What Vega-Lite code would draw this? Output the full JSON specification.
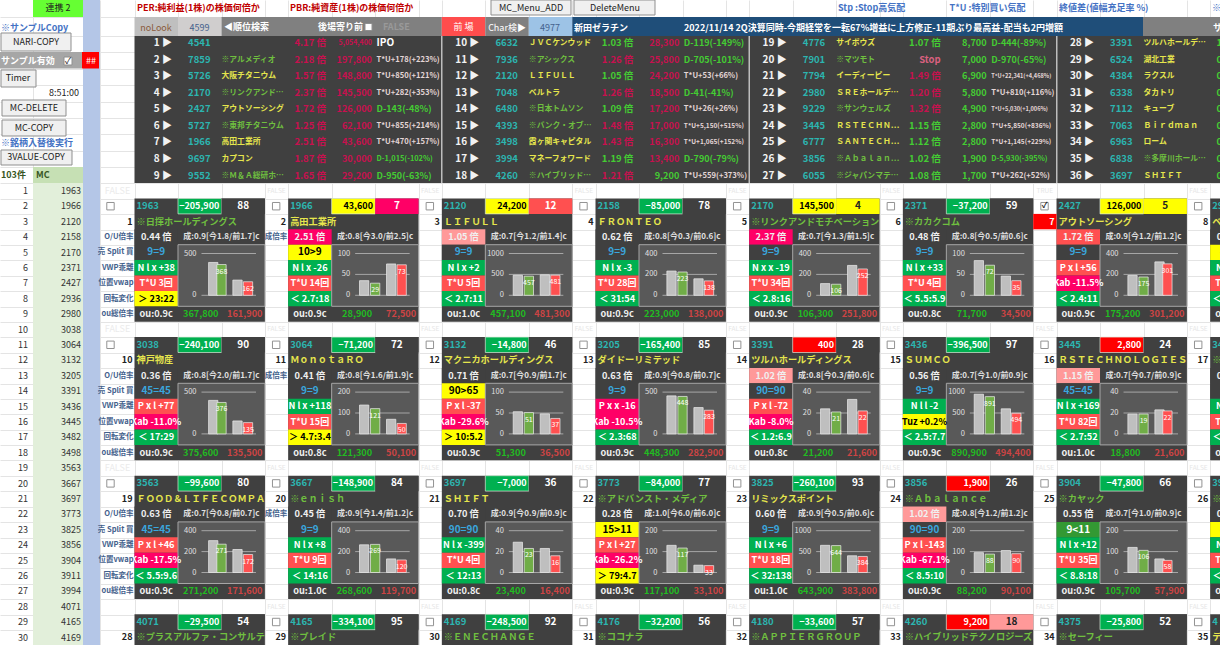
{
"$schema":"https://vega.github.io/schema/vega-lite/v6.json",
"width":1220,"height":645,"padding":0,"autosize":"none","background":"white",
"config":{"view":{"stroke":null},"text":{"font":"Noto Sans CJK JP","fontWeight":"bold","baseline":"middle"}},
"datasets":{
"boxes":[
{"x":8.3,"x2":10,"y":0,"y2":64.5,"k":"col"},{"x":3.3,"x2":8.3,"y":0,"y2":1.7,"k":"lime"},{"x":3.3,"x2":8.3,"y":18.3,"y2":64.5,"k":"mc"},{"x":3.3,"x2":8.3,"y":16.7,"y2":18.3,"k":"mch"},
{"x":13.45,"x2":17.8,"y":1.7,"y2":3.6,"k":"noL"},{"x":17.8,"x2":22.15,"y":1.7,"y2":3.6,"k":"no2"},{"x":22.15,"x2":44.18,"y":1.7,"y2":3.6,"k":"gray"},{"x":44.18,"x2":48.53,"y":1.7,"y2":3.6,"k":"red"},{"x":48.53,"x2":52.88,"y":1.7,"y2":3.6,"k":"gray"},{"x":52.88,"x2":57.23,"y":1.7,"y2":3.6,"k":"cell"},{"x":57.23,"x2":114.3,"y":1.7,"y2":3.6,"k":"navy"},{"x":114.3,"x2":122,"y":1.7,"y2":3.6,"k":"gray"},
{"x":13.45,"x2":122,"y":3.6,"y2":18.3,"k":"dark"},{"x":44.1,"x2":44.25,"y":3.6,"y2":18.3,"k":"sep"},{"x":74.85,"x2":75,"y":3.6,"y2":18.3,"k":"sep"},{"x":105.6,"x2":105.75,"y":3.6,"y2":18.3,"k":"sep"},
{"x":0,"x2":8.2,"y":5.2,"y2":6.85,"k":"samp"},{"x":8.2,"x2":9.9,"y":5.2,"y2":6.85,"k":"alert"},
{"x":0.1,"x2":7.1,"y":3.3,"y2":5.1,"k":"btn"},{"x":0.1,"x2":3.6,"y":7,"y2":8.7,"k":"btn"},{"x":0.2,"x2":6.6,"y":10,"y2":11.6,"k":"btn"},{"x":0.2,"x2":6.6,"y":12,"y2":13.6,"k":"btn"},{"x":0.1,"x2":7.2,"y":15,"y2":16.5,"k":"btn"},{"x":49.1,"x2":57.1,"y":0,"y2":1.5,"k":"btn"},{"x":57.4,"x2":65.5,"y":0,"y2":1.5,"k":"btn"},
{"x":6.4,"x2":7.2,"y":5.7,"y2":6.5,"k":"box"},{"x":36.5,"x2":37.2,"y":2.35,"y2":3.05,"k":"box"}
],
"chromeL":[
{"x":13.7,"y":0.8,"t":"PER:純利益(1株)の株価何倍か","k":"tR"},{"x":29,"y":0.8,"t":"PBR:純資産(1株)の株価何倍か","k":"tR"},{"x":83.8,"y":0.8,"t":"Stp :Stop高気配","k":"tB"},{"x":94.95,"y":0.8,"t":"T*U :特別買い気配","k":"tB"},{"x":105.9,"y":0.8,"t":"終値差(値幅充足率 %)","k":"tB"},{"x":121.2,"y":0.8,"t":"※","k":"tB"},
{"x":22.4,"y":2.7,"t":"◀順位検索","k":"tW"},{"x":31.8,"y":2.7,"t":"後場寄り前","k":"tW"},{"x":38.3,"y":2.7,"t":"FALSE","k":"tG"},{"x":57.4,"y":2.8,"t":"新田ゼラチン","k":"tW"},{"x":68.4,"y":2.8,"t":"2022/11/14 2Q決算同時-今期経常を一転67%増益に上方修正-11期ぶり最高益-配当も2円増額","k":"tW"},{"x":121.3,"y":2.8,"t":"サ","k":"tW"},
{"x":0.1,"y":2.8,"t":"※サンプルCopy","k":"tB"},{"x":0.1,"y":6.1,"t":"サンプル有効","k":"tW"},{"x":0.1,"y":14.3,"t":"※銘柄入替後実行","k":"tB"},{"x":0.1,"y":17.5,"t":"103件","k":"tD"},{"x":3.6,"y":17.5,"t":"MC","k":"tD"}
],
"chromeC":[
{"x":5.8,"y":0.8,"t":"連携 2","k":"tK"},{"x":15.6,"y":2.8,"t":"noLook","k":"tBr"},{"x":19.95,"y":2.8,"t":"4599","k":"tN"},{"x":46.35,"y":2.7,"t":"前 場","k":"tW"},{"x":50.7,"y":2.8,"t":"Char検▶","k":"tW"},{"x":55,"y":2.8,"t":"4977","k":"tN"},{"x":53.1,"y":0.8,"t":"MC_Menu_ADD","k":"tK"},{"x":61.5,"y":0.75,"t":"DeleteMenu","k":"tK"},
{"x":3.6,"y":4.2,"t":"NARI-COPY","k":"tK"},{"x":1.8,"y":7.8,"t":"Timer","k":"tK"},{"x":6.4,"y":9.3,"t":"8:51:00","k":"tK"},{"x":3.4,"y":10.8,"t":"MC-DELETE","k":"tK"},{"x":3.4,"y":12.8,"t":"MC-COPY","k":"tK"},{"x":3.6,"y":15.7,"t":"3VALUE-COPY","k":"tK"},{"x":9.1,"y":6.05,"t":"##","k":"tW"},{"x":6.8,"y":6.1,"t":"✓","k":"tK"}
],
"sheet":[{"row":1,"mc":1963},{"row":2,"mc":1966},{"row":3,"mc":2120},{"row":4,"mc":2158},{"row":5,"mc":2170},{"row":6,"mc":2371},{"row":7,"mc":2427},{"row":8,"mc":2936},{"row":9,"mc":2980},{"row":10,"mc":3038},{"row":11,"mc":3064},{"row":12,"mc":3132},{"row":13,"mc":3205},{"row":14,"mc":3391},{"row":15,"mc":3436},{"row":16,"mc":3445},{"row":17,"mc":3482},{"row":18,"mc":3498},{"row":19,"mc":3563},{"row":20,"mc":3667},{"row":21,"mc":3697},{"row":22,"mc":3773},{"row":23,"mc":3825},{"row":24,"mc":3856},{"row":25,"mc":3904},{"row":26,"mc":3911},{"row":27,"mc":3994},{"row":28,"mc":4071},{"row":29,"mc":4165},{"row":30,"mc":4169}],
"rank":[
{"col":0,"line":0,"num":"1 ▶","code":"4541","name":"","ratio":"4.17 倍","val":5054400,"note":"IPO","nk":"i"},
{"col":0,"line":1,"num":"2 ▶","code":"7859","name":"※アルメディオ","ratio":"2.18 倍","val":197800,"note":"T*U+178(+223%)","nk":"T"},
{"col":0,"line":2,"num":"3 ▶","code":"5726","name":"大阪チタニウム","ratio":"1.57 倍","val":148800,"note":"T*U+850(+121%)","nk":"T"},
{"col":0,"line":3,"num":"4 ▶","code":"2170","name":"※リンクアンドモチベ","ratio":"2.37 倍","val":145500,"note":"T*U+282(+353%)","nk":"T"},
{"col":0,"line":4,"num":"5 ▶","code":"2427","name":"アウトソーシング","ratio":"1.72 倍","val":126000,"note":"D-143(-48%)","nk":"D"},
{"col":0,"line":5,"num":"6 ▶","code":"5727","name":"※東邦チタニウム","ratio":"1.25 倍","val":62100,"note":"T*U+855(+214%)","nk":"T"},
{"col":0,"line":6,"num":"7 ▶","code":"1966","name":"高田工業所","ratio":"2.51 倍","val":43600,"note":"T*U+470(+157%)","nk":"T"},
{"col":0,"line":7,"num":"8 ▶","code":"9697","name":"カプコン","ratio":"1.87 倍","val":30000,"note":"D-1,015(-102%)","nk":"d"},
{"col":0,"line":8,"num":"9 ▶","code":"9552","name":"※Ｍ＆Ａ総研ホールディ","ratio":"1.65 倍","val":29200,"note":"D-950(-63%)","nk":"D"},
{"col":2,"line":0,"num":"10 ▶","code":"6632","name":"ＪＶＣケンウッド","ratio":"1.03 倍","val":28300,"note":"D-119(-149%)","nk":"D"},
{"col":2,"line":1,"num":"11 ▶","code":"7936","name":"※アシックス","ratio":"1.26 倍","val":25800,"note":"D-705(-101%)","nk":"D"},
{"col":2,"line":2,"num":"12 ▶","code":"2120","name":"ＬＩＦＵＬＬ","ratio":"1.05 倍","val":24200,"note":"T*U+53(+66%)","nk":"T"},
{"col":2,"line":3,"num":"13 ▶","code":"7048","name":"ベルトラ","ratio":"1.26 倍","val":18500,"note":"D-41(-41%)","nk":"D"},
{"col":2,"line":4,"num":"14 ▶","code":"6480","name":"※日本トムソン","ratio":"1.09 倍","val":17200,"note":"T*U+26(+26%)","nk":"T"},
{"col":2,"line":5,"num":"15 ▶","code":"4393","name":"※バンク・オブ・イノベ","ratio":"1.48 倍","val":17000,"note":"T*U+5,150(+515%)","nk":"t"},
{"col":2,"line":6,"num":"16 ▶","code":"3498","name":"霞ヶ関キャピタル","ratio":"1.43 倍","val":16300,"note":"T*U+1,065(+152%)","nk":"t"},
{"col":2,"line":7,"num":"17 ▶","code":"3994","name":"マネーフォワード","ratio":"1.19 倍","val":13400,"note":"D-790(-79%)","nk":"D"},
{"col":2,"line":8,"num":"18 ▶","code":"4260","name":"※ハイブリッドテクノロ","ratio":"1.21 倍","val":9200,"note":"T*U+559(+373%)","nk":"T"},
{"col":4,"line":0,"num":"19 ▶","code":"4776","name":"サイボウズ","ratio":"1.07 倍","val":8700,"note":"D-444(-89%)","nk":"D"},
{"col":4,"line":1,"num":"20 ▶","code":"7901","name":"※マツモト","ratio":"Stop","val":7000,"note":"D-970(-65%)","nk":"D"},
{"col":4,"line":2,"num":"21 ▶","code":"7794","name":"イーディーピー","ratio":"1.49 倍","val":6900,"note":"T*U+22,341(+4,468%)","nk":"u"},
{"col":4,"line":3,"num":"22 ▶","code":"2980","name":"ＳＲＥホールディングス","ratio":"1.20 倍","val":5800,"note":"T*U+810(+116%)","nk":"T"},
{"col":4,"line":4,"num":"23 ▶","code":"9229","name":"※サンウェルズ","ratio":"1.32 倍","val":4900,"note":"T*U+5,030(+1,006%)","nk":"u"},
{"col":4,"line":5,"num":"24 ▶","code":"3445","name":"ＲＳＴＥＣＨＮＯＬＯ","ratio":"1.15 倍","val":2800,"note":"T*U+5,850(+836%)","nk":"t"},
{"col":4,"line":6,"num":"25 ▶","code":"6777","name":"ＳＡＮＴＥＣＨＯＮ","ratio":"1.12 倍","val":2800,"note":"T*U+1,145(+229%)","nk":"t"},
{"col":4,"line":7,"num":"26 ▶","code":"3856","name":"※Ａｂａｌａｎｃｅ","ratio":"1.02 倍","val":1900,"note":"D-5,930(-395%)","nk":"d"},
{"col":4,"line":8,"num":"27 ▶","code":"6055","name":"※ジャパンマテリアル","ratio":"1.08 倍","val":1700,"note":"T*U+262(+52%)","nk":"T"},
{"col":6,"line":0,"num":"28 ▶","code":"3391","name":"ツルハホールディングス","ratio":"1.02 倍"},
{"col":6,"line":1,"num":"29 ▶","code":"6524","name":"湖北工業","ratio":"0.90 倍"},
{"col":6,"line":2,"num":"30 ▶","code":"4384","name":"ラクスル","ratio":"0.90 倍"},
{"col":6,"line":3,"num":"31 ▶","code":"6338","name":"タカトリ","ratio":"0.90 倍"},
{"col":6,"line":4,"num":"32 ▶","code":"7112","name":"キューブ","ratio":"0.90 倍"},
{"col":6,"line":5,"num":"33 ▶","code":"7063","name":"Ｂｉｒｄｍａｎ","ratio":"0.90 倍"},
{"col":6,"line":6,"num":"34 ▶","code":"6963","name":"ローム","ratio":"0.90 倍"},
{"col":6,"line":7,"num":"35 ▶","code":"6838","name":"※多摩川ホールディングス","ratio":"0.90 倍"},
{"col":6,"line":8,"num":"36 ▶","code":"3697","name":"ＳＨＩＦＴ","ratio":"0.70 倍"}
],
"cards":[
{"col":0,"row":0,"idx":1,"code":"1963","diff":-205900,"dk":"g","rank":88,"rk":"n","name":"※日揮ホールディングス","ratio":"0.44 倍","ak":"n","sub":"成:0.9[今1.8/前1.7]c","split":"9=9","sk":"n","nlx":"N l x +38","nk":"g","tu":"T*U 3回","tk":"r","rot":"＞ 23:22","ok":"y","ou":"ou:0.9c","buy":367800,"sell":161900},
{"col":1,"row":0,"idx":2,"code":"1966","diff":43600,"dk":"y","rank":7,"rk":"h","name":"高田工業所","ratio":"2.51 倍","ak":"h","sub":"成:0.8[今3.0/前2.5]c","split":"10>9","sk":"y","nlx":"N l x -26","nk":"g","tu":"T*U 14回","tk":"r","rot":"＜ 2.7:18","ok":"g","ou":"ou:0.9c","buy":28900,"sell":72500},
{"col":2,"row":0,"idx":3,"code":"2120","diff":24200,"dk":"y","rank":12,"rk":"r","name":"ＬＩＦＵＬＬ","ratio":"1.05 倍","ak":"p","sub":"成:0.7[今1.2/前1.4]c","split":"9=9","sk":"n","nlx":"N l x +2","nk":"g","tu":"T*U 5回","tk":"r","rot":"＜ 2.7:11","ok":"g","ou":"ou:1.0c","buy":457100,"sell":481300},
{"col":3,"row":0,"idx":4,"code":"2158","diff":-85000,"dk":"g","rank":78,"rk":"n","name":"ＦＲＯＮＴＥＯ","ratio":"0.62 倍","ak":"n","sub":"成:0.8[今0.3/前0.6]c","split":"9=9","sk":"n","nlx":"N l x -3","nk":"g","tu":"T*U 28回","tk":"r","rot":"＜ 31:54","ok":"g","ou":"ou:0.9c","buy":223000,"sell":138000},
{"col":4,"row":0,"idx":5,"code":"2170","diff":145500,"dk":"y","rank":4,"rk":"y","name":"※リンクアンドモチベーション","ratio":"2.37 倍","ak":"h","sub":"成:0.7[今1.3/前1.5]c","split":"9=9","sk":"n","nlx":"N x x -19","nk":"g","tu":"T*U 34回","tk":"r","rot":"＜ 2.8:16","ok":"g","ou":"ou:0.9c","buy":106300,"sell":251800},
{"col":5,"row":0,"idx":6,"code":"2371","diff":-37200,"dk":"g","rank":59,"rk":"n","name":"※カカクコム","ratio":"0.48 倍","ak":"n","sub":"成:0.8[今0.5/前0.6]c","split":"9=9","sk":"n","nlx":"N l x +33","nk":"g","tu":"T*U 4回","tk":"r","rot":"＜ 5.5:5.9","ok":"g","ou":"ou:0.8c","buy":71700,"sell":34500},
{"col":6,"row":0,"idx":7,"sel":1,"code":"2427","diff":126000,"dk":"y","rank":5,"rk":"y","name":"アウトソーシング","ratio":"1.72 倍","ak":"r","sub":"成:0.9[今1.2/前1.2]c","split":"9=9","sk":"n","nlx":"P x l +56","nk":"r","tu":"Kab -11.5%","tk":"h","rot":"＜ 2.4:11","ok":"g","ou":"ou:0.9c","buy":175200,"sell":301200},
{"col":7,"row":0,"idx":8,"code":"2936","name":"ベースフード","ratio":"0.70 倍","split":"45>9","ak":"n","sk":"y","nk":"g","tk":"r","ok":"g","ou":"ou:0.9c","nlx":"N l x +9","tu":"T*U 9回","rot":"＜ 2.2:10","dk":"g","rk":"n"},
{"col":0,"row":1,"idx":10,"code":"3038","diff":-240100,"dk":"g","rank":90,"rk":"n","name":"神戸物産","ratio":"0.36 倍","ak":"n","sub":"成:0.8[今2.0/前1.7]c","split":"45=45","sk":"n","nlx":"P x l +77","nk":"r","tu":"Kab -11.0%","tk":"h","rot":"＜ 17:29","ok":"g","ou":"ou:0.9c","buy":375600,"sell":135500},
{"col":1,"row":1,"idx":11,"code":"3064","diff":-71200,"dk":"g","rank":72,"rk":"n","name":"ＭｏｎｏｔａＲＯ","ratio":"0.41 倍","ak":"n","sub":"成:0.8[今1.6/前1.9]c","split":"9=9","sk":"n","nlx":"N l x +118","nk":"g","tu":"T*U 15回","tk":"r","rot":"＞ 4.7:3.4","ok":"y","ou":"ou:0.8c","buy":121300,"sell":50100},
{"col":2,"row":1,"idx":12,"code":"3132","diff":-14800,"dk":"g","rank":46,"rk":"n","name":"マクニカホールディングス","ratio":"0.71 倍","ak":"n","sub":"成:0.7[今0.9/前1.7]c","split":"90>65","sk":"y","nlx":"P x l -37","nk":"r","tu":"Kab -29.6%","tk":"h","rot":"＞ 10:5.2","ok":"y","ou":"ou:0.9c","buy":51300,"sell":36500},
{"col":3,"row":1,"idx":13,"code":"3205","diff":-165400,"dk":"g","rank":85,"rk":"n","name":"ダイドーリミテッド","ratio":"0.63 倍","ak":"n","sub":"成:0.9[今0.8/前0.7]c","split":"9=9","sk":"n","nlx":"P x x -16","nk":"h","tu":"Kab -10.5%","tk":"h","rot":"＜ 2.3:68","ok":"g","ou":"ou:0.9c","buy":448300,"sell":282900},
{"col":4,"row":1,"idx":14,"code":"3391","diff":400,"dk":"R","rank":28,"rk":"n","name":"ツルハホールディングス","ratio":"1.02 倍","ak":"p","sub":"成:0.8[今0.3/前0.6]c","split":"90=90","sk":"n","nlx":"P x l -72","nk":"r","tu":"Kab -8.0%","tk":"h","rot":"＜ 1.2:6.9","ok":"g","ou":"ou:0.8c","buy":21200,"sell":21600},
{"col":5,"row":1,"idx":15,"code":"3436","diff":-396500,"dk":"g","rank":97,"rk":"n","name":"ＳＵＭＣＯ","ratio":"0.56 倍","ak":"n","sub":"成:0.7[今1.0/前0.9]c","split":"9=9","sk":"n","nlx":"N l l -2","nk":"g","tu":"Tuz +0.2%","tk":"y","rot":"＜ 2.5:7.7","ok":"g","ou":"ou:0.9c","buy":890900,"sell":494400},
{"col":6,"row":1,"idx":16,"code":"3445","diff":2800,"dk":"R","rank":24,"rk":"n","name":"ＲＳＴＥＣＨＮＯＬＯＧＩＥＳ","ratio":"1.15 倍","ak":"p","sub":"成:0.7[今0.7/前0.9]c","split":"45=45","sk":"n","nlx":"N l x +169","nk":"g","tu":"T*U 82回","tk":"r","rot":"＜ 2.7:52","ok":"g","ou":"ou:1.0c","buy":18800,"sell":21600},
{"col":7,"row":1,"idx":17,"code":"3482","name":"※ロードスターキャピタル","ratio":"0.70 倍","split":"9=9","ak":"n","sk":"n","nk":"g","tk":"r","ok":"g","ou":"ou:0.9c","nlx":"N l x +9","tu":"T*U 9回","rot":"＜ 2.2:10","dk":"g","rk":"n"},
{"col":0,"row":2,"idx":19,"code":"3563","diff":-99600,"dk":"g","rank":80,"rk":"n","name":"ＦＯＯＤ＆ＬＩＦＥＣＯＭＰＡ","ratio":"0.63 倍","ak":"n","sub":"成:0.7[今0.8/前0.7]c","split":"45=45","sk":"n","nlx":"P x l +46","nk":"r","tu":"Kab -17.5%","tk":"h","rot":"＜ 5.5:9.6","ok":"g","ou":"ou:0.9c","buy":271200,"sell":171600},
{"col":1,"row":2,"idx":20,"code":"3667","diff":-148900,"dk":"g","rank":84,"rk":"n","name":"※ｅｎｉｓｈ","ratio":"0.45 倍","ak":"n","sub":"成:0.9[今1.4/前1.2]c","split":"9=9","sk":"n","nlx":"N l x +8","nk":"g","tu":"T*U 9回","tk":"r","rot":"＜ 14:16","ok":"g","ou":"ou:1.0c","buy":268600,"sell":119700},
{"col":2,"row":2,"idx":21,"code":"3697","diff":-7000,"dk":"g","rank":36,"rk":"n","name":"ＳＨＩＦＴ","ratio":"0.70 倍","ak":"n","sub":"成:0.9[今0.9/前0.9]c","split":"90=90","sk":"n","nlx":"N l x -399","nk":"g","tu":"T*U 4回","tk":"r","rot":"＜ 12:13","ok":"g","ou":"ou:0.8c","buy":23400,"sell":16400},
{"col":3,"row":2,"idx":22,"code":"3773","diff":-84000,"dk":"g","rank":77,"rk":"n","name":"※アドバンスト・メディア","ratio":"0.28 倍","ak":"n","sub":"成:1.0[今6.0/前6.0]c","split":"15>11","sk":"y","nlx":"P x l +27","nk":"r","tu":"Kab -26.2%","tk":"h","rot":"＞ 79:4.7","ok":"y","ou":"ou:0.9c","buy":117100,"sell":33100},
{"col":4,"row":2,"idx":23,"code":"3825","diff":-260100,"dk":"g","rank":93,"rk":"n","name":"リミックスポイント","ratio":"0.60 倍","ak":"n","sub":"成:0.9[今0.5/前0.6]c","split":"9=9","sk":"n","nlx":"N l x +6","nk":"g","tu":"T*U 18回","tk":"r","rot":"＜ 32:138","ok":"g","ou":"ou:1.0c","buy":643900,"sell":383800},
{"col":5,"row":2,"idx":24,"code":"3856","diff":1900,"dk":"R","rank":26,"rk":"n","name":"※Ａｂａｌａｎｃｅ","ratio":"1.02 倍","ak":"p","sub":"成:0.8[今1.2/前1.2]c","split":"90=90","sk":"n","nlx":"P x l -143","nk":"r","tu":"Kab -67.1%","tk":"h","rot":"＜ 8.5:10","ok":"g","ou":"ou:0.9c","buy":88200,"sell":90100},
{"col":6,"row":2,"idx":25,"code":"3904","diff":-47800,"dk":"g","rank":66,"rk":"n","name":"※カヤック","ratio":"0.55 倍","ak":"n","sub":"成:0.7[今1.0/前0.9]c","split":"9<11","sk":"G","nlx":"N l x +12","nk":"g","tu":"T*U 35回","tk":"r","rot":"＜ 8.8:18","ok":"g","ou":"ou:0.9c","buy":105700,"sell":57900},
{"col":7,"row":2,"idx":26,"code":"3911","name":"※Ａｉｍｉｎｇ","ratio":"0.70 倍","split":"45>9","ak":"n","sk":"y","nk":"g","tk":"r","ok":"g","ou":"ou:0.9c","nlx":"N l x +9","tu":"T*U 9回","rot":"＜ 2.2:10","dk":"g","rk":"n"},
{"col":0,"row":3,"idx":28,"code":"4071","diff":-29500,"dk":"g","rank":54,"rk":"n","name":"※プラスアルファ・コンサルテ"},
{"col":1,"row":3,"idx":29,"code":"4165","diff":-334100,"dk":"g","rank":95,"rk":"n","name":"※プレイド"},
{"col":2,"row":3,"idx":30,"code":"4169","diff":-248500,"dk":"g","rank":92,"rk":"n","name":"※ＥＮＥＣＨＡＮＧＥ"},
{"col":3,"row":3,"idx":31,"code":"4176","diff":-32200,"dk":"g","rank":56,"rk":"n","name":"※ココナラ"},
{"col":4,"row":3,"idx":32,"code":"4180","diff":-33600,"dk":"g","rank":57,"rk":"n","name":"※ＡＰＰＩＥＲＧＲＯＵＰ"},
{"col":5,"row":3,"idx":33,"code":"4260","diff":9200,"dk":"R","rank":18,"rk":"p","name":"※ハイブリッドテクノロジーズ"},
{"col":6,"row":3,"idx":34,"code":"4375","diff":-25800,"dk":"g","rank":52,"rk":"n","name":"※セーフィー"},
{"col":7,"row":3,"idx":35,"code":"4","name":"テラ","dk":"g","rk":"n"}
],
"panels":[
{"col":0,"row":0,"tick":[0,500],"p":[0,1]},{"col":1,"row":0,"tick":[0,50,100],"p":[0,0.5,1]},{"col":2,"row":0,"tick":[0,500,1000],"p":[0,0.5,1]},{"col":3,"row":0,"tick":[0,200,400],"p":[0,0.5,1]},{"col":4,"row":0,"tick":[0,200,400],"p":[0,0.5,1]},{"col":5,"row":0,"tick":[0,50,100],"p":[0,0.5,1]},{"col":6,"row":0,"tick":[0,200,400],"p":[0,0.5,1]},
{"col":0,"row":1,"tick":[0,500],"p":[0,1]},{"col":1,"row":1,"tick":[0,100,200],"p":[0,0.5,1]},{"col":2,"row":1,"tick":[0,50,100],"p":[0,0.5,1]},{"col":3,"row":1,"tick":[0,500],"p":[0,1]},{"col":4,"row":1,"tick":[0,20,40],"p":[0,0.5,1]},{"col":5,"row":1,"tick":[0,500,1000],"p":[0,0.5,1]},{"col":6,"row":1,"tick":[0,20,40],"p":[0,0.5,1]},
{"col":0,"row":2,"tick":[0,200,400],"p":[0,0.5,1]},{"col":1,"row":2,"tick":[0,200,400],"p":[0,0.5,1]},{"col":2,"row":2,"tick":[0,20,40],"p":[0,0.5,1]},{"col":3,"row":2,"tick":[0,100,200],"p":[0,0.5,1]},{"col":4,"row":2,"tick":[0,500,1000],"p":[0,0.5,1]},{"col":5,"row":2,"tick":[0,100,200],"p":[0,0.5,1]},{"col":6,"row":2,"tick":[0,100,200],"p":[0,0.5,1]}
],
"bars":[
{"slot":0,"row":0,"max":500,"v":393},{"slot":1,"row":0,"max":500,"v":368},{"slot":2,"row":0,"max":500,"v":182},{"slot":3,"row":0,"max":500,"v":162},
{"slot":10,"row":0,"max":100,"v":35},{"slot":11,"row":0,"max":100,"v":29},{"slot":12,"row":0,"max":100,"v":75},{"slot":13,"row":0,"max":100,"v":73},
{"slot":20,"row":0,"max":1000,"v":480},{"slot":21,"row":0,"max":1000,"v":457},{"slot":22,"row":0,"max":1000,"v":490},{"slot":23,"row":0,"max":1000,"v":481},
{"slot":30,"row":0,"max":400,"v":232},{"slot":31,"row":0,"max":400,"v":223},{"slot":32,"row":0,"max":400,"v":158},{"slot":33,"row":0,"max":400,"v":138},
{"slot":40,"row":0,"max":400,"v":112},{"slot":41,"row":0,"max":400,"v":106},{"slot":42,"row":0,"max":400,"v":286},{"slot":43,"row":0,"max":400,"v":252},
{"slot":50,"row":0,"max":100,"v":83},{"slot":51,"row":0,"max":100,"v":72},{"slot":52,"row":0,"max":100,"v":46},{"slot":53,"row":0,"max":100,"v":35},
{"slot":60,"row":0,"max":400,"v":190},{"slot":61,"row":0,"max":400,"v":175},{"slot":62,"row":0,"max":400,"v":320},{"slot":63,"row":0,"max":400,"v":301},
{"slot":0,"row":1,"max":500,"v":401},{"slot":1,"row":1,"max":500,"v":376},{"slot":2,"row":1,"max":500,"v":155},{"slot":3,"row":1,"max":500,"v":135},
{"slot":10,"row":1,"max":200,"v":138},{"slot":11,"row":1,"max":200,"v":121},{"slot":12,"row":1,"max":200,"v":70},{"slot":13,"row":1,"max":200,"v":50},
{"slot":20,"row":1,"max":100,"v":53},{"slot":21,"row":1,"max":100,"v":51},{"slot":22,"row":1,"max":100,"v":48},{"slot":23,"row":1,"max":100,"v":37},
{"slot":30,"row":1,"max":500,"v":455},{"slot":31,"row":1,"max":500,"v":448},{"slot":32,"row":1,"max":500,"v":315},{"slot":33,"row":1,"max":500,"v":283},
{"slot":40,"row":1,"max":40,"v":24},{"slot":41,"row":1,"max":40,"v":21},{"slot":42,"row":1,"max":40,"v":33},{"slot":43,"row":1,"max":40,"v":22},
{"slot":50,"row":1,"max":1000,"v":950},{"slot":51,"row":1,"max":1000,"v":891},{"slot":52,"row":1,"max":1000,"v":600},{"slot":53,"row":1,"max":1000,"v":494},
{"slot":60,"row":1,"max":40,"v":19},{"slot":61,"row":1,"max":40,"v":19},{"slot":62,"row":1,"max":40,"v":23},{"slot":63,"row":1,"max":40,"v":22},
{"slot":0,"row":2,"max":400,"v":305},{"slot":1,"row":2,"max":400,"v":271},{"slot":2,"row":2,"max":400,"v":220},{"slot":3,"row":2,"max":400,"v":172},
{"slot":10,"row":2,"max":400,"v":265},{"slot":11,"row":2,"max":400,"v":269},{"slot":12,"row":2,"max":400,"v":130},{"slot":13,"row":2,"max":400,"v":120},
{"slot":20,"row":2,"max":40,"v":29},{"slot":21,"row":2,"max":40,"v":23},{"slot":22,"row":2,"max":40,"v":23},{"slot":23,"row":2,"max":40,"v":16},
{"slot":30,"row":2,"max":200,"v":130},{"slot":31,"row":2,"max":200,"v":117},{"slot":32,"row":2,"max":200,"v":35},{"slot":33,"row":2,"max":200,"v":33},
{"slot":40,"row":2,"max":1000,"v":650},{"slot":41,"row":2,"max":1000,"v":644},{"slot":42,"row":2,"max":1000,"v":400},{"slot":43,"row":2,"max":1000,"v":384},
{"slot":50,"row":2,"max":200,"v":95},{"slot":51,"row":2,"max":200,"v":88},{"slot":52,"row":2,"max":200,"v":105},{"slot":53,"row":2,"max":200,"v":90},
{"slot":60,"row":2,"max":200,"v":120},{"slot":61,"row":2,"max":200,"v":106},{"slot":62,"row":2,"max":200,"v":65},{"slot":63,"row":2,"max":200,"v":58}
]
},
"resolve":{"scale":{"x":"independent","y":"independent"}},
"layer":[
{
"encoding":{
"x":{"field":"x","type":"quantitative","scale":{"domain":[0,122],"nice":false,"zero":false},"axis":{"values":[3.3,8.3,10,13.45,17.8,22.15,26.5,28.82,33.17,37.52,41.87,44.18,48.53,52.88,57.23,59.55,63.9,68.25,72.6,74.92,79.27,83.62,87.97,90.28,94.63,98.98,103.33,105.65,110,114.35,118.7,121.02],"grid":true,"gridColor":"#e4e4e4","labels":false,"ticks":false,"domain":false,"title":null}},
"y":{"field":"y","type":"quantitative","scale":{"domain":[0,64.5],"range":[0,645],"nice":false,"zero":false},"axis":{"values":[1.7,3.6,5.2,6.9,8.5,10.2,11.8,13.4,15.1,16.7,18.33,19.87,21.41,22.95,24.49,26.03,27.57,29.11,30.65,32.19,33.73,35.27,36.81,38.35,39.89,41.43,42.97,44.51,46.05,47.59,49.13,50.67,52.21,53.75,55.29,56.83,58.37,59.91,61.45,62.99,64.53],"grid":true,"gridColor":"#e4e4e4","labels":false,"ticks":false,"domain":false,"title":null}},
"color":{"field":"k","type":"nominal","legend":null,"scale":{"domain":["lime","col","mc","mch","noL","no2","gray","red","cell","navy","dark","samp","alert","btn","sep","box","tR","tB","tK","tBr","tN","tW","tG","tD"],"range":["#66ff33","#b4c6e7","#e2efda","#c6e0b4","#bfbfbf","#d0cece","#808080","#ff4d4d","#9dc3e6","#1f4e79","#404040","#a6a6a6","#ff0000","#f0f0f0","#bdbdbd","#ffffff","#c00000","#4472c4","#222222","#8a5a3a","#44618c","#ffffff","#999999","#375623"]}}
},
"layer":[
{"data":{"name":"boxes"},"mark":{"type":"rect"},"encoding":{"x2":{"field":"x2"},"y2":{"field":"y2"},"stroke":{"condition":{"test":"datum.k=='btn'||datum.k=='box'","value":"#8f8f8f"},"value":null}}},
{"data":{"name":"chromeL"},"mark":{"type":"text","align":"left","fontSize":9},"encoding":{"text":{"field":"t"}}},
{"data":{"name":"chromeC"},"mark":{"type":"text","align":"center","fontSize":9,"fontWeight":"normal"},"encoding":{"text":{"field":"t"}}}
]
},
{
"data":{"name":"sheet"},
"encoding":{"y":{"field":"row","type":"quantitative","axis":null,"scale":{"domain":[1,30],"range":[191,637.6],"nice":false,"zero":false}}},
"layer":[
{"mark":{"type":"text","align":"right","fontSize":9,"fontWeight":"normal","color":"#333"},"encoding":{"x":{"datum":2.8,"type":"quantitative","axis":null,"scale":{"domain":[0,122],"nice":false,"zero":false}},"text":{"field":"row"}}},
{"mark":{"type":"text","align":"right","fontSize":9,"fontWeight":"normal","color":"#333"},"encoding":{"x":{"datum":8.1,"type":"quantitative","axis":null,"scale":{"domain":[0,122],"nice":false,"zero":false}},"text":{"field":"mc"}}}
]
},
{
"encoding":{"x":{"field":"col","type":"quantitative","axis":null,"scale":{"domain":[-0.8752,7.0638],"nice":false,"zero":false}}},
"resolve":{"scale":{"x":"independent","y":"independent"}},
"layer":[
{
"data":{"name":"rank"},
"encoding":{"y":{"field":"line","type":"quantitative","axis":null,"scale":{"domain":[0,8],"range":[43,175.6],"nice":false,"zero":false}}},
"layer":[
{"mark":{"type":"text","align":"right","dx":37.5,"fontSize":10,"color":"#f2f2f2"},"encoding":{"text":{"field":"num"}}},
{"mark":{"type":"text","align":"center","dx":64.8,"fontSize":9.5,"color":"#2cb5b0"},"encoding":{"text":{"field":"code"}}},
{"mark":{"type":"text","align":"left","dx":87,"fontSize":7.8,"limit":65,"ellipsis":""},"encoding":{"text":{"field":"name"},"color":{"condition":{"test":"indexof(datum.name,'※')==0","value":"#6fbf3f"},"value":"#e6e64d"}}},
{"mark":{"type":"text","align":"right","dx":191.5,"fontSize":9.5},"encoding":{"text":{"field":"ratio"},"color":{"condition":[{"test":"datum.ratio=='Stop'","value":"#d9607f"},{"test":"toNumber(slice(datum.ratio,0,4))<1.2","value":"#44cc33"}],"value":"#c8104f"}}},
{"transform":[{"filter":"datum.val>0"}],"encoding":{"text":{"field":"val","type":"quantitative","format":","},"color":{"condition":{"test":"datum.val>=10000","value":"#c8104f"},"value":"#44cc33"}},"layer":[
{"transform":[{"filter":"datum.val<1000000"}],"mark":{"type":"text","align":"right","dx":237.5,"fontSize":9.2}},
{"transform":[{"filter":"datum.val>=1000000"}],"mark":{"type":"text","align":"right","dx":237.5,"fontSize":7}}
]},
{"transform":[{"filter":"datum.val>0"}],"encoding":{"text":{"field":"note"},"color":{"condition":[{"test":"datum.nk=='i'","value":"#ffffff"},{"test":"datum.nk=='D'||datum.nk=='d'","value":"#44cc33"}],"value":"#e4d6d6"}},"layer":[
{"transform":[{"filter":"datum.nk=='i'"}],"mark":{"type":"text","align":"left","dx":242,"fontSize":10}},
{"transform":[{"filter":"datum.nk=='D'"}],"mark":{"type":"text","align":"left","dx":242,"fontSize":9}},
{"transform":[{"filter":"datum.nk=='d'"}],"mark":{"type":"text","align":"left","dx":242,"fontSize":7.4}},
{"transform":[{"filter":"datum.nk=='T'"}],"mark":{"type":"text","align":"left","dx":242,"fontSize":7.6}},
{"transform":[{"filter":"datum.nk=='t'"}],"mark":{"type":"text","align":"left","dx":242,"fontSize":6.5}},
{"transform":[{"filter":"datum.nk=='u'"}],"mark":{"type":"text","align":"left","dx":242,"fontSize":5.6}}
]}
]
},
{
"data":{"name":"cards"},
"encoding":{"y":{"field":"row","type":"quantitative","axis":null,"scale":{"domain":[0,3],"range":[198.5,614.3],"nice":false,"zero":false}}},
"layer":[
{"encoding":{"x2":{"field":"col"},"y2":{"field":"row"}},"layer":[
{"mark":{"type":"rect","xOffset":0,"x2Offset":130.4,"yOffset":0,"y2Offset":123.2,"fill":"#404040"}},
{"mark":{"type":"rect","xOffset":43.5,"x2Offset":87,"yOffset":0,"y2Offset":15.4,"stroke":"#d8ead8","strokeWidth":0.7},"encoding":{"fill":{"field":"dk","type":"nominal","legend":null,"scale":{"domain":["n","g","y","r","h","p","R","G"],"range":["#404040","#00b050","#ffff00","#ff5050","#ff0066","#ff9999","#ff0000","#339933"]}}}},
{"mark":{"type":"rect","xOffset":87,"x2Offset":130.4,"yOffset":0,"y2Offset":15.4},"encoding":{"fill":{"field":"rk","type":"nominal","legend":null}}},
{"transform":[{"filter":"datum.sel==1"}],"mark":{"type":"rect","xOffset":-23.3,"x2Offset":0,"yOffset":15.4,"y2Offset":30.8,"fill":"#ff0000"}},
{"transform":[{"filter":"datum.row<3"}],"layer":[
{"mark":{"type":"rect","xOffset":0,"x2Offset":43.5,"yOffset":30.8,"y2Offset":46.2},"encoding":{"fill":{"field":"ak","type":"nominal","legend":null}}},
{"mark":{"type":"rect","xOffset":0,"x2Offset":43.5,"yOffset":46.2,"y2Offset":61.6},"encoding":{"fill":{"field":"sk","type":"nominal","legend":null}}},
{"mark":{"type":"rect","xOffset":0,"x2Offset":43.5,"yOffset":61.6,"y2Offset":77},"encoding":{"fill":{"field":"nk","type":"nominal","legend":null}}},
{"mark":{"type":"rect","xOffset":0,"x2Offset":43.5,"yOffset":77,"y2Offset":92.4},"encoding":{"fill":{"field":"tk","type":"nominal","legend":null}}},
{"mark":{"type":"rect","xOffset":0,"x2Offset":43.5,"yOffset":92.4,"y2Offset":107.8},"encoding":{"fill":{"field":"ok","type":"nominal","legend":null}}},
{"mark":{"type":"rect","xOffset":43.5,"x2Offset":130.4,"yOffset":46.2,"y2Offset":107.8,"fill":"#595959","stroke":"#a6a6a6","strokeWidth":1}}
]}
]},
{"mark":{"type":"text","align":"left","dx":2,"dy":7.7,"fontSize":9.5,"color":"#2cb5b0"},"encoding":{"text":{"field":"code"}}},
{"transform":[{"filter":"isValid(datum.diff)"}],"mark":{"type":"text","align":"right","dx":84.8,"dy":7.7,"fontSize":9},"encoding":{"text":{"field":"diff","type":"quantitative","format":","},"color":{"condition":{"test":"datum.dk=='y'","value":"#000000"},"value":"#ffffff"}}},
{"transform":[{"filter":"isValid(datum.rank)"}],"mark":{"type":"text","align":"center","dx":108.7,"dy":7.7,"fontSize":10},"encoding":{"text":{"field":"rank"},"color":{"condition":{"test":"datum.rk=='y'||datum.rk=='p'","value":"#222222"},"value":"#ffffff"}}},
{"mark":{"type":"text","align":"left","dx":2,"dy":23.1,"fontSize":9.2,"limit":129,"ellipsis":""},"encoding":{"text":{"field":"name"},"color":{"condition":{"test":"indexof(datum.name,'※')==0","value":"#6fbf3f"},"value":"#e6e64d"}}},
{"mark":{"type":"text","align":"right","dx":-2,"dy":23.1,"fontSize":9},"encoding":{"text":{"field":"idx"},"color":{"condition":{"test":"datum.sel==1","value":"#ffffff"},"value":"#222222"}}},
{"transform":[{"filter":"datum.row<3"}],"layer":[
{"mark":{"type":"text","align":"center","dx":21.7,"dy":38.5,"fontSize":9.2,"color":"#f0f0f0"},"encoding":{"text":{"field":"ratio"}}},
{"transform":[{"filter":"isValid(datum.sub)"}],"mark":{"type":"text","align":"center","dx":86.9,"dy":38.5,"fontSize":8,"color":"#e0e0e0"},"encoding":{"text":{"field":"sub"}}},
{"mark":{"type":"text","align":"center","dx":21.7,"dy":53.9,"fontSize":10},"encoding":{"text":{"field":"split"},"color":{"condition":[{"test":"datum.sk=='y'","value":"#000000"},{"test":"datum.sk=='G'","value":"#ffffff"}],"value":"#3aa6dd"}}},
{"mark":{"type":"text","align":"center","dx":21.7,"dy":69.3,"fontSize":9.2,"color":"#ffffff"},"encoding":{"text":{"field":"nlx"}}},
{"mark":{"type":"text","align":"center","dx":21.7,"dy":84.7,"fontSize":9},"encoding":{"text":{"field":"tu"},"color":{"condition":{"test":"datum.tk=='y'","value":"#000000"},"value":"#ffffff"}}},
{"mark":{"type":"text","align":"center","dx":21.7,"dy":100.1,"fontSize":9.2},"encoding":{"text":{"field":"rot"},"color":{"condition":{"test":"datum.ok=='y'","value":"#000000"},"value":"#ffffff"}}},
{"mark":{"type":"text","align":"center","dx":21.7,"dy":115.5,"fontSize":9.2,"color":"#f0f0f0"},"encoding":{"text":{"field":"ou"}}},
{"transform":[{"filter":"isValid(datum.buy)"}],"mark":{"type":"text","align":"right","dx":84,"dy":115.5,"fontSize":9.2,"color":"#22bb22"},"encoding":{"text":{"field":"buy","type":"quantitative","format":","}}},
{"transform":[{"filter":"isValid(datum.sell)"}],"mark":{"type":"text","align":"right","dx":128,"dy":115.5,"fontSize":9.2,"color":"#cc4444"},"encoding":{"text":{"field":"sell","type":"quantitative","format":","}}}
]},
{"transform":[{"filter":"datum.col==0&&datum.row<3"}],"layer":[
{"mark":{"type":"text","align":"right","dx":-1,"dy":38.5,"fontSize":7.5,"color":"#44618c"},"encoding":{"text":{"value":"O/U倍率"}}},
{"mark":{"type":"text","align":"right","dx":-1,"dy":53.9,"fontSize":7.5,"color":"#44618c"},"encoding":{"text":{"value":"売 Split 買"}}},
{"mark":{"type":"text","align":"right","dx":-1,"dy":69.3,"fontSize":7.5,"color":"#44618c"},"encoding":{"text":{"value":"VWP乖離"}}},
{"mark":{"type":"text","align":"right","dx":-1,"dy":84.7,"fontSize":7.5,"color":"#44618c"},"encoding":{"text":{"value":"位置vwap"}}},
{"mark":{"type":"text","align":"right","dx":-1,"dy":100.1,"fontSize":7.5,"color":"#44618c"},"encoding":{"text":{"value":"回転変化"}}},
{"mark":{"type":"text","align":"right","dx":-1,"dy":115.5,"fontSize":7.5,"color":"#44618c"},"encoding":{"text":{"value":"ou総倍率"}}},
{"mark":{"type":"square","xOffset":-24,"yOffset":7.7,"size":55,"filled":true,"fill":"#ffffff","stroke":"#666666","strokeWidth":1}},
{"mark":{"type":"text","align":"center","dx":-17,"dy":-7.7,"fontSize":9,"fontWeight":"normal","color":"#ebebeb"},"encoding":{"text":{"value":"FALSE"}}}
]},
{"transform":[{"filter":"datum.col==1&&datum.row<3"}],"mark":{"type":"text","align":"right","dx":-1,"dy":38.5,"fontSize":7.5,"color":"#44618c"},"encoding":{"text":{"value":"成倍率"}}},
{"transform":[{"filter":"datum.col>0"}],"layer":[
{"mark":{"type":"square","xOffset":-12,"yOffset":7.7,"size":55,"filled":true,"fill":"#ffffff","stroke":"#666666","strokeWidth":1}},
{"transform":[{"filter":"datum.sel==1"}],"mark":{"type":"text","align":"center","dx":-12,"dy":7.7,"fontSize":8,"color":"#222222"},"encoding":{"text":{"value":"✓"}}},
{"mark":{"type":"text","align":"center","dx":-11.7,"dy":-7.7,"fontSize":6.5,"fontWeight":"normal","color":"#e6e6e6"},"encoding":{"text":{"condition":{"test":"datum.sel==1","value":"TRUE"},"value":"FALSE"}}}
]}
]
},
{"data":{"name":"panels"},"transform":[{"filter":"datum.row==0"},{"flatten":["tick","p"]}],"encoding":{"y":{"field":"p","type":"quantitative","axis":null,"scale":{"domain":[0,1],"range":[295.3,253.5],"nice":false}}},"layer":[
{"mark":{"type":"rule","xOffset":67,"x2Offset":121.5,"color":"#a6a6a6","strokeWidth":1},"encoding":{"x2":{"field":"col"}}},
{"mark":{"type":"text","align":"right","dx":62,"fontSize":7.5,"fontWeight":"normal","color":"#e0e0e0"},"encoding":{"text":{"field":"tick"}}}
]},
{"data":{"name":"panels"},"transform":[{"filter":"datum.row==1"},{"flatten":["tick","p"]}],"encoding":{"y":{"field":"p","type":"quantitative","axis":null,"scale":{"domain":[0,1],"range":[433.9,392.1],"nice":false}}},"layer":[
{"mark":{"type":"rule","xOffset":67,"x2Offset":121.5,"color":"#a6a6a6","strokeWidth":1},"encoding":{"x2":{"field":"col"}}},
{"mark":{"type":"text","align":"right","dx":62,"fontSize":7.5,"fontWeight":"normal","color":"#e0e0e0"},"encoding":{"text":{"field":"tick"}}}
]},
{"data":{"name":"panels"},"transform":[{"filter":"datum.row==2"},{"flatten":["tick","p"]}],"encoding":{"y":{"field":"p","type":"quantitative","axis":null,"scale":{"domain":[0,1],"range":[572.5,530.7],"nice":false}}},"layer":[
{"mark":{"type":"rule","xOffset":67,"x2Offset":121.5,"color":"#a6a6a6","strokeWidth":1},"encoding":{"x2":{"field":"col"}}},
{"mark":{"type":"text","align":"right","dx":62,"fontSize":7.5,"fontWeight":"normal","color":"#e0e0e0"},"encoding":{"text":{"field":"tick"}}}
]},
{
"data":{"name":"bars"},
"encoding":{"x":{"field":"slot","type":"quantitative","axis":null,"scale":{"domain":[0,1,2,3,10,11,12,13,20,21,22,23,30,31,32,33,40,41,42,43,50,51,52,53,60,61,62,63],"range":[210.5,221.5,237.5,248,364.17,375.17,391.17,401.67,517.84,528.84,544.84,555.34,671.51,682.51,698.51,709.01,825.18,836.18,852.18,862.68,978.85,989.85,1005.85,1016.35,1132.52,1143.52,1159.52,1170.02],"nice":false,"zero":false}}},
"resolve":{"scale":{"y":"independent"}},
"layer":[
{"transform":[{"filter":"datum.row==0&&datum.max==500"}],"encoding":{"y":{"field":"v","type":"quantitative","stack":null,"axis":null,"scale":{"domain":[0,500],"range":[295.3,253.5],"nice":false}}},"layer":[{"mark":{"type":"bar","orient":"vertical","width":9.3,"stroke":"#eeeeee","strokeWidth":0.7},"encoding":{"y2":{"datum":0},"color":{"condition":[{"test":"datum.slot%10==1","value":"#70ad47"},{"test":"datum.slot%10==3","value":"#ff5050"}],"value":"#bfbfbf"}}},{"transform":[{"filter":"datum.slot%2==1"}],"mark":{"type":"text","dy":7,"fontSize":7,"fontWeight":"normal","color":"#ffffff"},"encoding":{"text":{"field":"v"}}}]},
{"transform":[{"filter":"datum.row==0&&datum.max==100"}],"encoding":{"y":{"field":"v","type":"quantitative","stack":null,"axis":null,"scale":{"domain":[0,100],"range":[295.3,253.5],"nice":false}}},"layer":[{"mark":{"type":"bar","orient":"vertical","width":9.3,"stroke":"#eeeeee","strokeWidth":0.7},"encoding":{"y2":{"datum":0},"color":{"condition":[{"test":"datum.slot%10==1","value":"#70ad47"},{"test":"datum.slot%10==3","value":"#ff5050"}],"value":"#bfbfbf"}}},{"transform":[{"filter":"datum.slot%2==1"}],"mark":{"type":"text","dy":7,"fontSize":7,"fontWeight":"normal","color":"#ffffff"},"encoding":{"text":{"field":"v"}}}]},
{"transform":[{"filter":"datum.row==0&&datum.max==1000"}],"encoding":{"y":{"field":"v","type":"quantitative","stack":null,"axis":null,"scale":{"domain":[0,1000],"range":[295.3,253.5],"nice":false}}},"layer":[{"mark":{"type":"bar","orient":"vertical","width":9.3,"stroke":"#eeeeee","strokeWidth":0.7},"encoding":{"y2":{"datum":0},"color":{"condition":[{"test":"datum.slot%10==1","value":"#70ad47"},{"test":"datum.slot%10==3","value":"#ff5050"}],"value":"#bfbfbf"}}},{"transform":[{"filter":"datum.slot%2==1"}],"mark":{"type":"text","dy":7,"fontSize":7,"fontWeight":"normal","color":"#ffffff"},"encoding":{"text":{"field":"v"}}}]},
{"transform":[{"filter":"datum.row==0&&datum.max==400"}],"encoding":{"y":{"field":"v","type":"quantitative","stack":null,"axis":null,"scale":{"domain":[0,400],"range":[295.3,253.5],"nice":false}}},"layer":[{"mark":{"type":"bar","orient":"vertical","width":9.3,"stroke":"#eeeeee","strokeWidth":0.7},"encoding":{"y2":{"datum":0},"color":{"condition":[{"test":"datum.slot%10==1","value":"#70ad47"},{"test":"datum.slot%10==3","value":"#ff5050"}],"value":"#bfbfbf"}}},{"transform":[{"filter":"datum.slot%2==1"}],"mark":{"type":"text","dy":7,"fontSize":7,"fontWeight":"normal","color":"#ffffff"},"encoding":{"text":{"field":"v"}}}]},
{"transform":[{"filter":"datum.row==1&&datum.max==500"}],"encoding":{"y":{"field":"v","type":"quantitative","stack":null,"axis":null,"scale":{"domain":[0,500],"range":[433.9,392.1],"nice":false}}},"layer":[{"mark":{"type":"bar","orient":"vertical","width":9.3,"stroke":"#eeeeee","strokeWidth":0.7},"encoding":{"y2":{"datum":0},"color":{"condition":[{"test":"datum.slot%10==1","value":"#70ad47"},{"test":"datum.slot%10==3","value":"#ff5050"}],"value":"#bfbfbf"}}},{"transform":[{"filter":"datum.slot%2==1"}],"mark":{"type":"text","dy":7,"fontSize":7,"fontWeight":"normal","color":"#ffffff"},"encoding":{"text":{"field":"v"}}}]},
{"transform":[{"filter":"datum.row==1&&datum.max==200"}],"encoding":{"y":{"field":"v","type":"quantitative","stack":null,"axis":null,"scale":{"domain":[0,200],"range":[433.9,392.1],"nice":false}}},"layer":[{"mark":{"type":"bar","orient":"vertical","width":9.3,"stroke":"#eeeeee","strokeWidth":0.7},"encoding":{"y2":{"datum":0},"color":{"condition":[{"test":"datum.slot%10==1","value":"#70ad47"},{"test":"datum.slot%10==3","value":"#ff5050"}],"value":"#bfbfbf"}}},{"transform":[{"filter":"datum.slot%2==1"}],"mark":{"type":"text","dy":7,"fontSize":7,"fontWeight":"normal","color":"#ffffff"},"encoding":{"text":{"field":"v"}}}]},
{"transform":[{"filter":"datum.row==1&&datum.max==100"}],"encoding":{"y":{"field":"v","type":"quantitative","stack":null,"axis":null,"scale":{"domain":[0,100],"range":[433.9,392.1],"nice":false}}},"layer":[{"mark":{"type":"bar","orient":"vertical","width":9.3,"stroke":"#eeeeee","strokeWidth":0.7},"encoding":{"y2":{"datum":0},"color":{"condition":[{"test":"datum.slot%10==1","value":"#70ad47"},{"test":"datum.slot%10==3","value":"#ff5050"}],"value":"#bfbfbf"}}},{"transform":[{"filter":"datum.slot%2==1"}],"mark":{"type":"text","dy":7,"fontSize":7,"fontWeight":"normal","color":"#ffffff"},"encoding":{"text":{"field":"v"}}}]},
{"transform":[{"filter":"datum.row==1&&datum.max==40"}],"encoding":{"y":{"field":"v","type":"quantitative","stack":null,"axis":null,"scale":{"domain":[0,40],"range":[433.9,392.1],"nice":false}}},"layer":[{"mark":{"type":"bar","orient":"vertical","width":9.3,"stroke":"#eeeeee","strokeWidth":0.7},"encoding":{"y2":{"datum":0},"color":{"condition":[{"test":"datum.slot%10==1","value":"#70ad47"},{"test":"datum.slot%10==3","value":"#ff5050"}],"value":"#bfbfbf"}}},{"transform":[{"filter":"datum.slot%2==1"}],"mark":{"type":"text","dy":7,"fontSize":7,"fontWeight":"normal","color":"#ffffff"},"encoding":{"text":{"field":"v"}}}]},
{"transform":[{"filter":"datum.row==1&&datum.max==1000"}],"encoding":{"y":{"field":"v","type":"quantitative","stack":null,"axis":null,"scale":{"domain":[0,1000],"range":[433.9,392.1],"nice":false}}},"layer":[{"mark":{"type":"bar","orient":"vertical","width":9.3,"stroke":"#eeeeee","strokeWidth":0.7},"encoding":{"y2":{"datum":0},"color":{"condition":[{"test":"datum.slot%10==1","value":"#70ad47"},{"test":"datum.slot%10==3","value":"#ff5050"}],"value":"#bfbfbf"}}},{"transform":[{"filter":"datum.slot%2==1"}],"mark":{"type":"text","dy":7,"fontSize":7,"fontWeight":"normal","color":"#ffffff"},"encoding":{"text":{"field":"v"}}}]},
{"transform":[{"filter":"datum.row==2&&datum.max==400"}],"encoding":{"y":{"field":"v","type":"quantitative","stack":null,"axis":null,"scale":{"domain":[0,400],"range":[572.5,530.7],"nice":false}}},"layer":[{"mark":{"type":"bar","orient":"vertical","width":9.3,"stroke":"#eeeeee","strokeWidth":0.7},"encoding":{"y2":{"datum":0},"color":{"condition":[{"test":"datum.slot%10==1","value":"#70ad47"},{"test":"datum.slot%10==3","value":"#ff5050"}],"value":"#bfbfbf"}}},{"transform":[{"filter":"datum.slot%2==1"}],"mark":{"type":"text","dy":7,"fontSize":7,"fontWeight":"normal","color":"#ffffff"},"encoding":{"text":{"field":"v"}}}]},
{"transform":[{"filter":"datum.row==2&&datum.max==40"}],"encoding":{"y":{"field":"v","type":"quantitative","stack":null,"axis":null,"scale":{"domain":[0,40],"range":[572.5,530.7],"nice":false}}},"layer":[{"mark":{"type":"bar","orient":"vertical","width":9.3,"stroke":"#eeeeee","strokeWidth":0.7},"encoding":{"y2":{"datum":0},"color":{"condition":[{"test":"datum.slot%10==1","value":"#70ad47"},{"test":"datum.slot%10==3","value":"#ff5050"}],"value":"#bfbfbf"}}},{"transform":[{"filter":"datum.slot%2==1"}],"mark":{"type":"text","dy":7,"fontSize":7,"fontWeight":"normal","color":"#ffffff"},"encoding":{"text":{"field":"v"}}}]},
{"transform":[{"filter":"datum.row==2&&datum.max==200"}],"encoding":{"y":{"field":"v","type":"quantitative","stack":null,"axis":null,"scale":{"domain":[0,200],"range":[572.5,530.7],"nice":false}}},"layer":[{"mark":{"type":"bar","orient":"vertical","width":9.3,"stroke":"#eeeeee","strokeWidth":0.7},"encoding":{"y2":{"datum":0},"color":{"condition":[{"test":"datum.slot%10==1","value":"#70ad47"},{"test":"datum.slot%10==3","value":"#ff5050"}],"value":"#bfbfbf"}}},{"transform":[{"filter":"datum.slot%2==1"}],"mark":{"type":"text","dy":7,"fontSize":7,"fontWeight":"normal","color":"#ffffff"},"encoding":{"text":{"field":"v"}}}]},
{"transform":[{"filter":"datum.row==2&&datum.max==1000"}],"encoding":{"y":{"field":"v","type":"quantitative","stack":null,"axis":null,"scale":{"domain":[0,1000],"range":[572.5,530.7],"nice":false}}},"layer":[{"mark":{"type":"bar","orient":"vertical","width":9.3,"stroke":"#eeeeee","strokeWidth":0.7},"encoding":{"y2":{"datum":0},"color":{"condition":[{"test":"datum.slot%10==1","value":"#70ad47"},{"test":"datum.slot%10==3","value":"#ff5050"}],"value":"#bfbfbf"}}},{"transform":[{"filter":"datum.slot%2==1"}],"mark":{"type":"text","dy":7,"fontSize":7,"fontWeight":"normal","color":"#ffffff"},"encoding":{"text":{"field":"v"}}}]}
]
}
]
}
]
}
